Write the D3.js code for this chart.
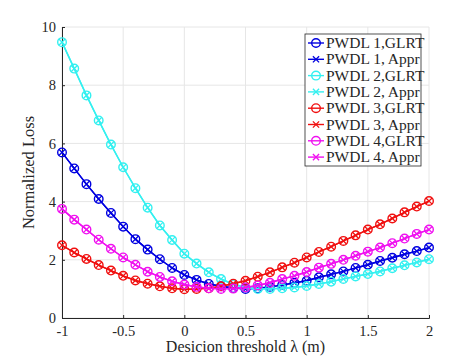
<!DOCTYPE html>
<html><head><meta charset="utf-8">
<script src="https://cdn.jsdelivr.net/npm/d3@7"></script>
<style>body{margin:0;background:#fff}svg{display:block}</style>
</head><body>
<script>
const lambdas = [-1,-0.9,-0.8,-0.7,-0.6,-0.5,-0.4,-0.3,-0.2,-0.1,0,0.1,0.2,0.3,0.4,0.5,0.6,0.7,0.8,0.9,1,1.1,1.2,1.3,1.4,1.5,1.6,1.7,1.8,1.9,2];
const pwdl1 = [5.69,5.14,4.60,4.09,3.61,3.14,2.71,2.35,2.02,1.72,1.48,1.31,1.17,1.09,1.03,1.00,1.02,1.07,1.13,1.21,1.28,1.40,1.50,1.60,1.72,1.83,1.96,2.07,2.19,2.30,2.42];
const pwdl2 = [9.48,8.57,7.65,6.79,5.96,5.18,4.46,3.79,3.18,2.68,2.21,1.87,1.57,1.34,1.16,1.05,1.00,1.00,1.02,1.05,1.10,1.17,1.25,1.34,1.43,1.51,1.60,1.71,1.81,1.91,2.02];
const pwdl3 = [2.50,2.25,2.03,1.82,1.63,1.45,1.29,1.18,1.09,1.02,0.99,1.00,1.02,1.09,1.18,1.28,1.42,1.57,1.74,1.90,2.08,2.27,2.45,2.65,2.84,3.04,3.22,3.42,3.63,3.83,4.02];
const pwdl4 = [3.75,3.38,3.04,2.69,2.38,2.08,1.83,1.59,1.41,1.26,1.15,1.07,1.02,1.00,1.01,1.05,1.12,1.21,1.34,1.45,1.58,1.73,1.86,2.00,2.14,2.28,2.42,2.57,2.73,2.89,3.04];
const seriesNames = ["PWDL 1,GLRT","PWDL 1, Appr","PWDL 2,GLRT","PWDL 2, Appr","PWDL 3,GLRT","PWDL 3, Appr","PWDL 4,GLRT","PWDL 4, Appr"];
const seriesColors = ["#0000e0","#0000e0","#33f0f0","#33f0f0","#f01010","#f01010","#f010f0","#f010f0"];
const seriesValues = [pwdl1,pwdl1,pwdl2,pwdl2,pwdl3,pwdl3,pwdl4,pwdl4];
const seriesMarkers = ["o","x","o","x","o","x","o","x"];
const xTicks = [-1,-0.5,0,0.5,1,1.5,2];
const yTicks = [0,2,4,6,8,10];

const FONT="'Liberation Serif','DejaVu Serif',serif";
const W=474,H=358;
const m={l:62,r:45,t:27,b:40};
const svg=d3.select("body").append("svg").attr("width",W).attr("height",H).attr("font-family",FONT);
const x=d3.scaleLinear().domain([-1,2]).range([m.l,W-m.r]);
const y=d3.scaleLinear().domain([0,10]).range([H-m.b,m.t]);

// grid
const g=svg.append("g");
g.selectAll(".gx").data(xTicks).join("line").attr("x1",d=>x(d)).attr("x2",d=>x(d)).attr("y1",y(0)).attr("y2",y(10)).attr("stroke","#e6e6e6").attr("stroke-width",1);
g.selectAll(".gy").data(yTicks).join("line").attr("y1",d=>y(d)).attr("y2",d=>y(d)).attr("x1",x(-1)).attr("x2",x(2)).attr("stroke","#e6e6e6").attr("stroke-width",1);

// axes
const xa=svg.append("g").attr("transform",`translate(0,${y(0)})`).call(d3.axisBottom(x).tickValues(xTicks).tickSize(-3).tickPadding(8).tickFormat(d=>String(d)));
const ya=svg.append("g").attr("transform",`translate(${x(-1)},0)`).call(d3.axisLeft(y).tickValues(yTicks).tickSize(-3).tickPadding(6).tickFormat(d=>String(d)));
[xa,ya].forEach(a=>{a.attr("font-family",FONT).attr("font-size",14.5);a.select(".domain").attr("stroke","#262626");a.selectAll(".tick line").attr("stroke","#262626");a.selectAll("text").attr("fill","#262626");});

svg.append("text").attr("x",(x(-1)+x(2))/2).attr("y",352).attr("text-anchor","middle").attr("fill","#262626").attr("font-family",FONT).attr("font-size",16).text("Desicion threshold λ (m)");
svg.append("text").attr("transform",`translate(34,${(y(0)+y(10))/2}) rotate(-90)`).attr("text-anchor","middle").attr("fill","#262626").attr("font-family",FONT).attr("font-size",16.5).text("Normalized Loss");

const line=d3.line().x((d,i)=>x(lambdas[i])).y(d=>y(d));
function drawMarker(sel,type,color,cx,cy){
  if(type==="o"){sel.append("circle").attr("cx",cx).attr("cy",cy).attr("r",4.3).attr("fill","none").attr("stroke",color).attr("stroke-width",1.4);}
  else{const s=3.1;sel.append("path").attr("d",`M${cx-s},${cy-s}L${cx+s},${cy+s}M${cx-s},${cy+s}L${cx+s},${cy-s}`).attr("stroke",color).attr("stroke-width",1.3);}
}
seriesValues.forEach((vals,k)=>{
  const sg=svg.append("g");
  sg.append("path").datum(vals).attr("d",line).attr("fill","none").attr("stroke",seriesColors[k]).attr("stroke-width",1.4);
  vals.forEach((v,i)=>drawMarker(sg,seriesMarkers[k],seriesColors[k],x(lambdas[i]),y(v)));
});

// legend
const lg=svg.append("g");
const lx=305,ly=34,lw=116,lh=132;
lg.append("rect").attr("x",lx).attr("y",ly).attr("width",lw).attr("height",lh).attr("fill","#fff").attr("stroke","#262626").attr("stroke-width",0.8);
seriesNames.forEach((n,k)=>{
  const cy=ly+9+k*16.3;
  lg.append("line").attr("x1",lx+3).attr("x2",lx+19).attr("y1",cy).attr("y2",cy).attr("stroke",seriesColors[k]).attr("stroke-width",1.4);
  drawMarker(lg,seriesMarkers[k],seriesColors[k],lx+11,cy);
  lg.append("text").attr("x",lx+21).attr("y",cy+5).attr("fill","#262626").attr("font-family",FONT).attr("font-size",15.5).text(n);
});
</script>
</body></html>
